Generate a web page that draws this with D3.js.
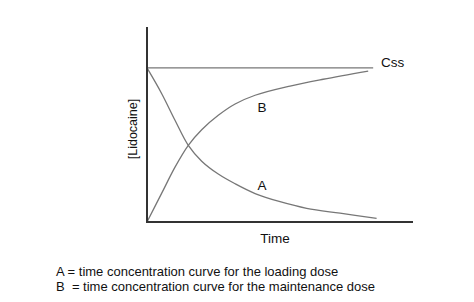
<!DOCTYPE html>
<html>
<head>
<meta charset="utf-8">
<script src="https://cdn.jsdelivr.net/npm/d3@7"></script>
<style>
  body { margin: 0; background: #fff; }
  text { font-family: "Liberation Sans", Arial, sans-serif; fill: #111; }
</style>
</head>
<body>
<div id="chart-area"></div>
<script>
// data (arbitrary units, time 0-100, conc 0-100)
var timeA = [0, 5.6, 10.6, 15.7, 20.8, 27.1, 33.5, 41.1, 50.6, 60.7, 73.4, 87.3];
var concA = [79, 65.8, 52.3, 39.3, 31.2, 24.6, 19.6, 14.6, 10.4, 7.0, 4.5, 1.9];
var timeB = [0, 5.6, 10.6, 15.7, 20.8, 27.1, 33.5, 41.1, 54.4, 67.0, 84.1];
var concB = [0, 14.8, 28.0, 39.3, 47.3, 54.7, 60.5, 65.0, 69.7, 73.2, 77.4];
var cssLevel = 79;
var cssEnd = 86;
var legendLines = ["A = time concentration curve for the loading dose",
                   "B  = time concentration curve for the maintenance dose"];

var svg = d3.select("#chart-area")
  .append("svg")
    .attr("width", 474)
    .attr("height", 302);

// Scales
var x = d3.scaleLinear()
  .domain([0, 100])
  .range([147, 410]);
var y = d3.scaleLinear()
  .domain([0, 100])
  .range([222, 27]);

var line = d3.line()
  .x(function(d){ return x(d[0]); })
  .y(function(d){ return y(d[1]); })
  .curve(d3.curveCatmullRom.alpha(0.5));

var dataA = d3.zip(timeA, concA);
var dataB = d3.zip(timeB, concB);

// Css line
svg.append("line")
  .attr("x1", x(0)).attr("x2", x(cssEnd))
  .attr("y1", y(cssLevel)).attr("y2", y(cssLevel))
  .attr("stroke", "#777").attr("stroke-width", 1.3);

// curves
svg.append("path")
  .datum(dataA)
  .attr("d", line)
  .attr("fill", "none").attr("stroke", "#777").attr("stroke-width", 1.3);
svg.append("path")
  .datum(dataB)
  .attr("d", line)
  .attr("fill", "none").attr("stroke", "#777").attr("stroke-width", 1.3);

// axes (plain lines, no ticks)
svg.append("line")
  .attr("x1", x(0)).attr("x2", x(0))
  .attr("y1", y(100)).attr("y2", y(0) + 1)
  .attr("stroke", "#333").attr("stroke-width", 2);
svg.append("line")
  .attr("x1", x(0) - 1).attr("x2", 413)
  .attr("y1", y(0)).attr("y2", y(0))
  .attr("stroke", "#333").attr("stroke-width", 2);

// labels
svg.append("text")
  .attr("x", 381).attr("y", 67)
  .attr("font-size", "13.5px")
  .text("Css");
svg.append("text")
  .attr("x", 262).attr("y", 112)
  .attr("font-size", "13.5px")
  .attr("text-anchor", "middle")
  .text("B");
svg.append("text")
  .attr("x", 262).attr("y", 190)
  .attr("font-size", "13.5px")
  .attr("text-anchor", "middle")
  .text("A");

// Y label
svg.append("text")
  .attr("transform", "translate(137,129) rotate(-90)")
  .attr("font-size", "12.5px")
  .attr("text-anchor", "middle")
  .text("[Lidocaine]");

// X label
svg.append("text")
  .attr("x", 275).attr("y", 243)
  .attr("font-size", "13.5px")
  .attr("text-anchor", "middle")
  .text("Time");

// legend text
svg.selectAll(".legend")
  .data(legendLines)
  .enter().append("text")
    .attr("class", "legend")
    .attr("x", 56)
    .attr("y", function(d, i){ return 276 + i * 14.5; })
    .attr("font-size", "13px")
    .style("white-space", "pre")
    .text(function(d){ return d; });
</script>
</body>
</html>
